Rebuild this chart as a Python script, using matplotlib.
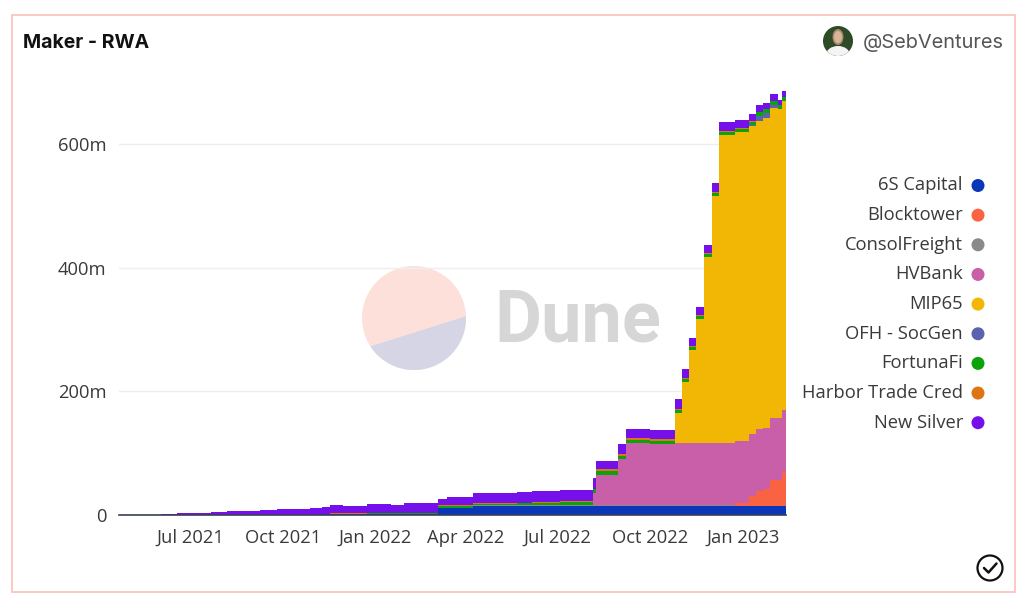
"""Maker RWA stacked area chart, Dune style."""
import matplotlib
matplotlib.use("Agg")
import matplotlib.pyplot as plt
import matplotlib.dates as mdates
import numpy as np
import pandas as pd
from matplotlib.patches import Circle, Ellipse, Polygon, Rectangle

plt.rcParams["font.family"] = ["Open Sans", "DejaVu Sans"]

W, H = 1024, 607

dates = pd.to_datetime([
    "2021-04-21", "2021-05-18", "2021-06-02", "2021-06-18", "2021-07-05", "2021-07-21",
    "2021-08-06", "2021-08-23", "2021-09-08", "2021-09-25", "2021-10-12",
    "2021-10-28", "2021-11-09", "2021-11-17", "2021-11-30", "2021-12-24", "2022-01-16",
    "2022-01-29", "2022-03-04", "2022-03-13", "2022-04-08", "2022-05-22", "2022-06-06",
    "2022-07-03", "2022-08-05", "2022-08-08", "2022-08-30", "2022-09-07", "2022-10-01",
    "2022-10-26", "2022-11-02", "2022-11-09", "2022-11-16", "2022-11-23", "2022-12-01",
    "2022-12-08", "2022-12-24", "2023-01-07", "2023-01-14", "2023-01-21", "2023-01-28",
    "2023-02-05", "2023-02-09", "2023-02-13",
])

# values in millions, one entry per date above
six_s = [0, 0, 0, 0, 0, 0, 0, 0, 0, 0, 0, 0, 1, 1, 1, 1, 1, 1, 11, 11, 14.5, 14.5, 14.5, 14.5,
         14.5, 14.5, 14.5, 14.5, 14.5, 14.5, 14.5, 14.5, 14.5, 14.5, 14.5, 14.5, 14.5, 14.5,
         14.5, 14.5, 14.5, 14.5, 14.5, 14.5]
blocktower = [0, 0, 0, 0, 0, 0, 0, 0, 0, 0, 0, 0, 0, 0, 0, 0, 0, 0, 0, 0, 0, 0, 0, 0, 0, 0, 0,
              0, 0, 0, 0, 0, 0, 0, 0, 0, 4.5, 16.5, 24.5, 27.5, 42, 42, 55, 55]
consol = [0, 0, 0, 0, 0, 0, 0, 0, 0, 0, 0, 0, 0, 0.5, 0.5, 0.5, 0.5, 0.5, 1, 1, 1, 1, 1, 1, 1,
          1, 1, 1, 1, 1, 1, 1, 1, 1, 1, 1, 0.5, 0.5, 0.5, 0.5, 0.5, 0.5, 0.5, 0.5]
hvbank = [0, 0, 0, 0, 0, 0, 0, 0, 0, 0, 0, 0, 0, 0, 0, 0, 0, 0, 0, 0, 0, 0, 0, 0, 20, 49.5,
          74.5, 100.5, 99.5, 100.5, 100.5, 100.5, 100.5, 100.5, 100.5, 100.5, 100, 99.5, 99,
          97.5, 99.5, 99.5, 100, 100]
mip65 = [0, 0, 0, 0, 0, 0, 0, 0, 0, 0, 0, 0, 0, 0, 0, 0, 0, 0, 0, 0, 0, 0, 0, 0, 0, 0, 0, 0, 0,
         49, 99, 151, 201, 301, 400, 499, 500, 498.5, 499, 502, 501, 500, 500, 500]
ofh = [0, 0, 0, 0, 0, 0, 0, 0, 0, 0, 0, 0, 0, 0, 0, 0, 0, 0, 0, 0, 0, 0, 0, 0, 0, 0, 0, 0, 0,
       0, 0, 0, 0, 0, 0, 0, 0.5, 0.5, 7.5, 8, 6, 0, 0, 0]
fortuna = [0, 0, 0, 0, 0, 0, 0, 0, 0, 0, 0, 0, 0, 0.5, 0.5, 1.5, 1.5, 1.5, 3, 3, 3, 3.5, 4.5, 6,
           6, 6, 6, 5, 5, 5, 5, 5, 5, 5, 5, 5, 5, 6, 6, 6, 6, 6, 6, 6]
harbor = [0, 0, 0, 0, 0, 0, 0, 0, 0, 0, 0, 0, 0, 0.5, 0.5, 0.5, 0.5, 0.5, 0.5, 0.5, 1, 1, 1, 1,
          1, 3, 3, 3, 3, 2, 2, 1, 1, 1, 1, 1, 1, 1, 0.5, 0.5, 0, 0.5, 0, 0]
new_silver = [0, 0, 1.5, 3, 4, 5, 6, 7, 8, 9, 10, 11.5, 11.5, 13.5, 11.5, 13.5, 12, 16, 10.5,
              13.5, 15.5, 16.5, 17.5, 18.5, 18, 14, 16, 15, 14.5, 15, 14, 14, 13, 14, 15, 14,
              13, 12, 11, 10.5, 11, 8, 10, 10]

names = ["6S Capital", "Blocktower", "ConsolFreight", "HVBank", "MIP65", "OFH - SocGen",
         "FortunaFi", "Harbor Trade Cred", "New Silver"]
colors = ["#0a36b8", "#f96342", "#8a8a8a", "#c95fa8", "#f2b705", "#5a64ad",
          "#0aa30a", "#de7413", "#7510ea"]
series = [six_s, blocktower, consol, hvbank, mip65, ofh, fortuna, harbor, new_silver]

tick_dates = pd.to_datetime(["2021-07-01", "2021-10-01", "2022-01-01", "2022-04-01",
                             "2022-07-01", "2022-10-01", "2023-01-01"])
y_ticks = [0, 200, 400, 600]
y_tick_labels = ["0", "200m", "400m", "600m"]

fig = plt.figure(figsize=(W / 100, H / 100), dpi=100, facecolor="white")

# pixel space layer for frame, watermark, legend and header
bg = fig.add_axes([0, 0, 1, 1], zorder=0)
bg.set_xlim(0, W)
bg.set_ylim(H, 0)
bg.axis("off")
bg.add_patch(Rectangle((12, 15), 1003, 577, fill=False, ec="#fcc9c4", lw=1.4))

# watermark
wm = Circle((414, 318), 52, fc="#fde0da", ec="none")
bg.add_patch(wm)
low = Polygon([(370, 346.5), (467, 316), (480, 380), (360, 380)], fc="#d5d5e5", ec="none")
bg.add_patch(low)
low.set_clip_path(wm)
bg.text(494, 315, "Dune", fontsize=52, fontweight="bold", color="#d6d6d6",
        family=["Roboto", "DejaVu Sans"], ha="left", va="center_baseline")

# chart
left, right, top, zero = 119, 786, 80, 515
ax = fig.add_axes([left / W, 1 - zero / H, (right - left) / W, (zero - top) / H], zorder=1)
ax.patch.set_alpha(0)
base = np.zeros(len(dates))
for vals, col in zip(series, colors):
    upper = base + np.array(vals, dtype=float)
    ax.fill_between(dates, base, upper, step="post", color=col, lw=0, zorder=3)
    base = upper
ax.axhline(0, color="#3a3f55", lw=1.2, zorder=4, clip_on=False)
ax.set_xlim(dates[0], dates[-1])
ax.set_ylim(0, (zero - top) / 0.6183)
ax.set_xticks(tick_dates)
ax.xaxis.set_major_formatter(mdates.DateFormatter("%b %Y"))
ax.set_yticks(y_ticks)
ax.set_yticklabels(y_tick_labels)
ax.tick_params(axis="x", length=0, pad=10, labelsize=13.2, labelcolor="#3a3a3a")
ax.tick_params(axis="y", length=0, pad=9, labelsize=13.2, labelcolor="#3a3a3a")
ax.grid(axis="y", color="#eeeeee", lw=1, zorder=0)
ax.set_axisbelow(True)
for s in ax.spines.values():
    s.set_visible(False)

# header
bg.text(23, 43, "Maker - RWA", fontsize=14, fontweight="bold", color="#111111",
        family=["Inter", "DejaVu Sans"], ha="left", va="center")
bg.text(1004, 43, "@SebVentures", fontsize=14.4, color="#555555",
        family=["Inter", "DejaVu Sans"], ha="right", va="center")

# avatar
av = Circle((838, 41), 15, fc="#2f4a26", ec="none")
bg.add_patch(av)
parts = [
    Ellipse((838, 37), 11, 16, fc="#a88a70", ec="none"),
    Ellipse((838, 37), 8, 12, fc="#d9b49b", ec="none"),
    Ellipse((838, 55), 24, 18, fc="#f4f4f4", ec="none"),
]
for p in parts:
    bg.add_patch(p)
    p.set_clip_path(av)

# legend
for i, (name, col) in enumerate(zip(names, colors)):
    y = 185.5 + i * 29.65
    bg.text(963, y, name, fontsize=13.2, color="#3a3a3a", ha="right", va="center")
    bg.add_patch(Circle((978, y), 6.5, fc=col, ec="none"))

# check mark
bg.add_patch(Circle((990, 568), 12.5, fill=False, ec="#111111", lw=1.6))
bg.plot([984, 988.5, 996.5], [568, 572.5, 563.5], color="#111111", lw=1.8,
        solid_capstyle="round", solid_joinstyle="round")

fig.savefig("out.png", dpi=100)
plt.close()
